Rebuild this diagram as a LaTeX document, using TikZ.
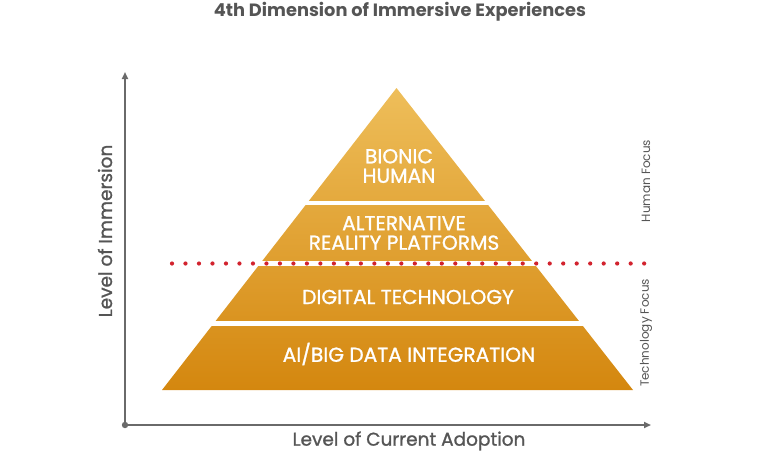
\documentclass[tikz,border=0pt]{standalone}
\usepackage{fontspec}
\setmainfont{Poppins}
\newfontfamily\pmed{Poppins}[FakeBold=1.2]
\usetikzlibrary{arrows.meta}
\definecolor{axisgray}{HTML}{6A6A6A}
\definecolor{txtgray}{HTML}{555555}
\definecolor{goldtop}{HTML}{EEBE5A}
\definecolor{goldbot}{HTML}{D4870F}
\definecolor{dotred}{HTML}{D2232E}
\tikzset{
  axis/.style={draw=axisgray, line width=1.7pt},
  laytxt/.style={text=white, font=\pmed\fontsize{20.2}{19.5}\selectfont, align=center, inner sep=0pt},
  axlabel/.style={text=txtgray, font=\pmed\fontsize{18.5}{20}\selectfont, inner sep=0pt},
  sidelabel/.style={text=txtgray, font=\fontsize{12}{14}\selectfont, inner sep=0pt, rotate=90},
  gap/.style={fill=white, draw=none}
}
\begin{document}
\begin{tikzpicture}[x=1pt,y=-1pt]
\useasboundingbox (0,0) rectangle (768,453);
% pyramid
\shade[top color=goldtop, bottom color=goldbot] (396.5,88) -- (633,390) -- (162,390) -- cycle;
\fill[gap] (100,200.5) rectangle (700,205);
\fill[gap] (100,261) rectangle (700,266);
\fill[gap] (100,321) rectangle (700,326);
% axes
\coordinate (O) at (125,425);
\coordinate (Ytip) at (125,72);
\coordinate (Xtip) at (651,425);
\draw[axis, -{Triangle[length=7pt,width=6pt]}] (O) -- (Ytip);
\draw[axis, -{Triangle[length=7pt,width=6pt]}] (O) -- (Xtip);
\fill[axisgray] (O) circle (3.2);
% dotted separator
\foreach \i in {0,...,35} {\fill[dotred] (172+\i*13.49,263.5) circle (2.1);}
% layer texts
\node[laytxt] (l1) at (399,166) {BIONIC\\HUMAN};
\node[laytxt] (l2) at (404,233) {ALTERNATIVE\\REALITY PLATFORMS};
\node[laytxt] (l3) at (408,297) {DIGITAL TECHNOLOGY};
\node[laytxt] (l4) at (409,354) {AI/BIG DATA INTEGRATION};
% titles
\node[text=txtgray, font=\bfseries\fontsize{17.8}{20}\selectfont, inner sep=0pt] (title) at (400,12) {4th Dimension of Immersive Experiences};
\node[axlabel, rotate=90] (ylab) at (105,231) {Level of Immersion};
\node[axlabel] (xlab) at (409,441) {Level of Current Adoption};
\node[sidelabel] (hf) at (646,181) {Human Focus};
\node[sidelabel] (tf) at (646,333) {Technology Focus};
\end{tikzpicture}
\end{document}
